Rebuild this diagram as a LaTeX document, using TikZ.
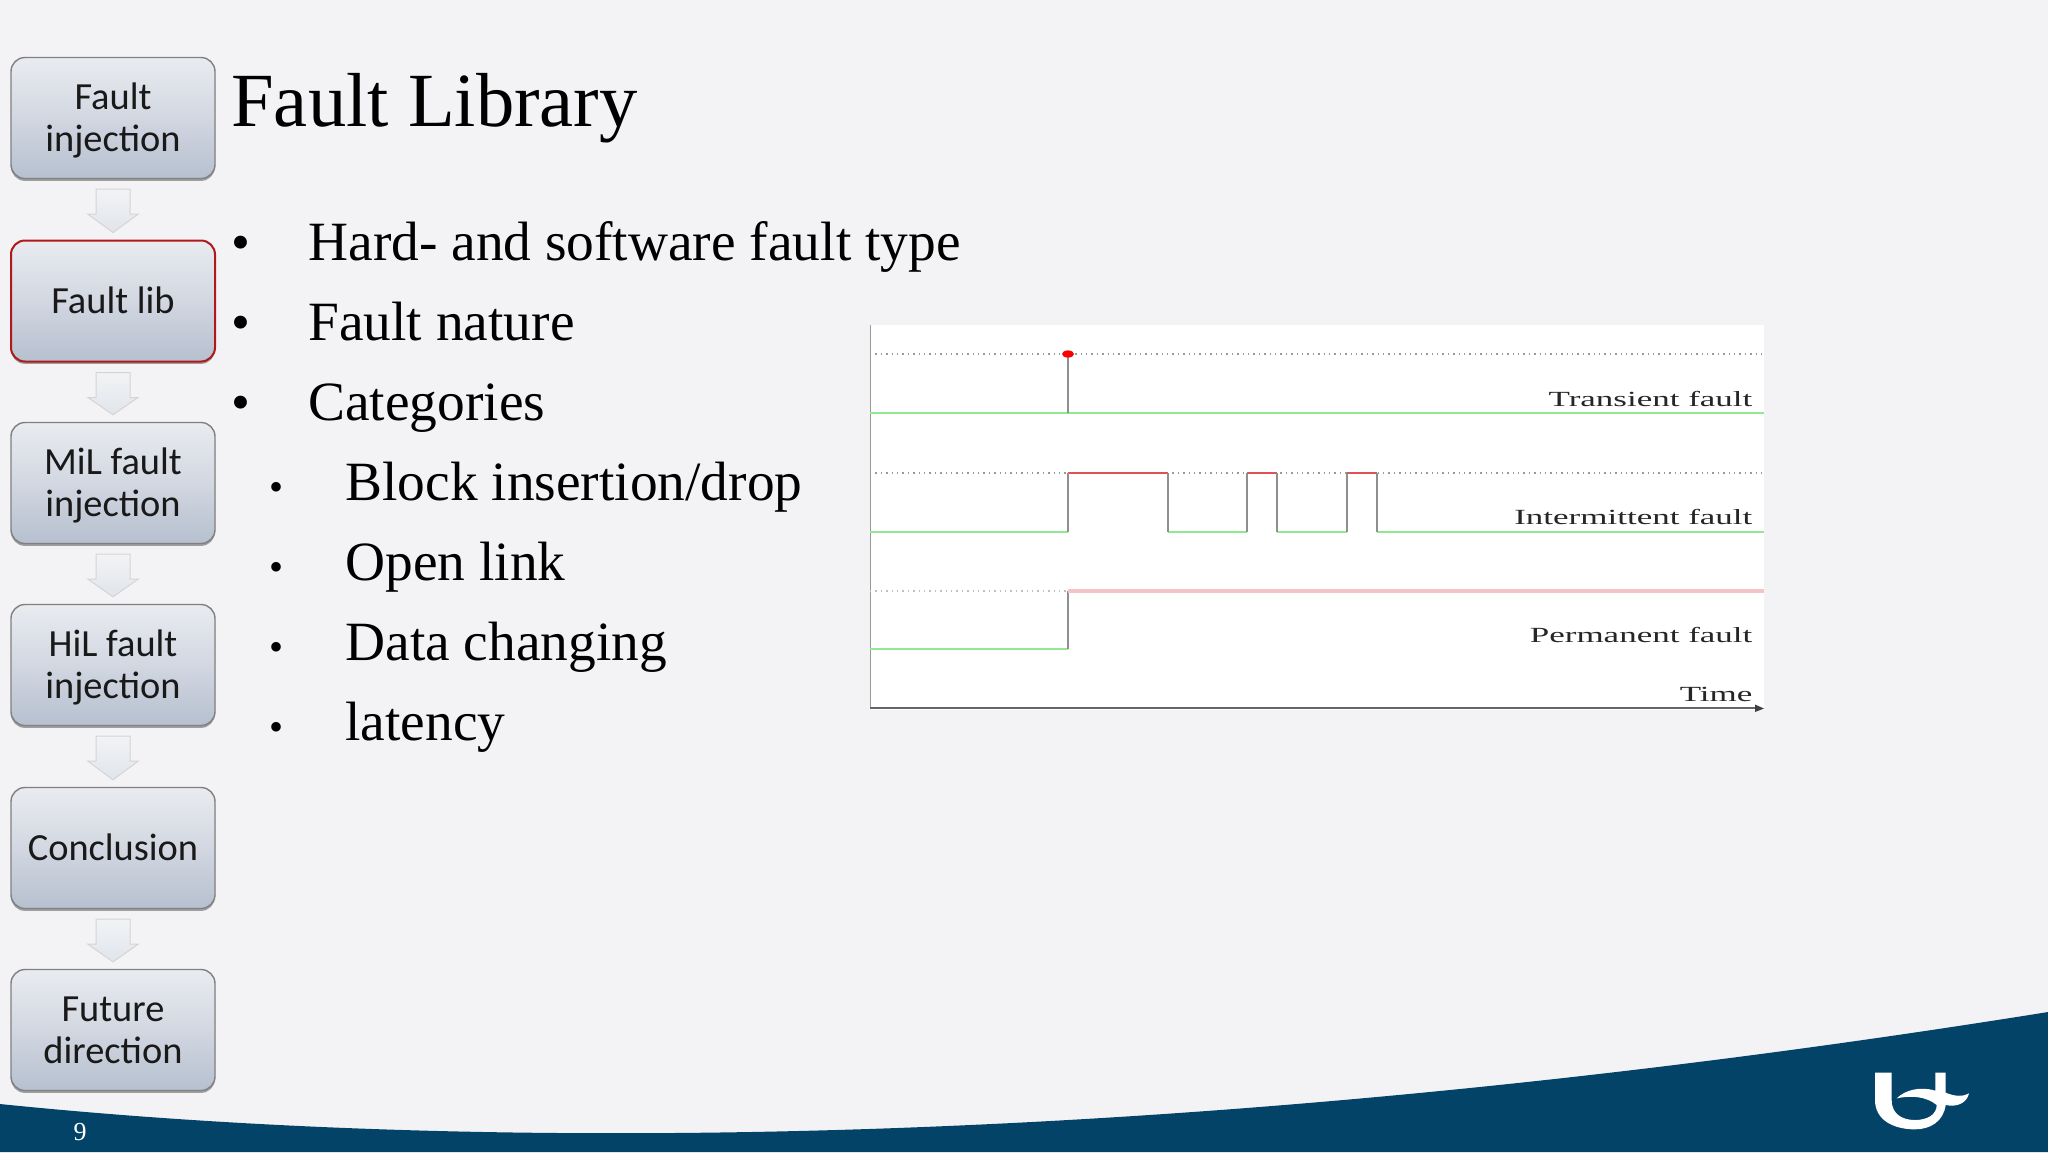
\documentclass[tikz,border=0pt]{standalone}
\usepackage{fontspec}
\setmainfont{Liberation Serif}
\newfontfamily\boxfont{Carlito}
\usetikzlibrary{shadows,calc}
\definecolor{bgc}{HTML}{F3F3F5}
\definecolor{navy}{HTML}{044368}
\definecolor{sig}{HTML}{8F8F8F}
\definecolor{grn}{HTML}{90E890}
\definecolor{rd}{HTML}{E2505A}
\definecolor{boxtop}{HTML}{E9EBF0}
\definecolor{boxmid}{HTML}{D2D7E1}
\definecolor{boxbot}{HTML}{B6C0CF}
\definecolor{arrtop}{HTML}{F2F3F5}
\definecolor{arrbot}{HTML}{E0E5EB}
\newcommand{\linea}{\rule[-6.3pt]{0pt}{25.5pt}}
\tikzset{
  x=0.5pt,y=-0.5pt,
  stepbox/.style={rounded corners=7pt,minimum width=102pt,minimum height=60.5pt,inner sep=0pt,
    align=center,draw=black!50,line width=.7pt,
    top color=boxtop,bottom color=boxbot,middle color=boxmid,
    drop shadow={shadow xshift=0pt,shadow yshift=-1.2pt,opacity=.35,fill=black},
    font=\boxfont\fontsize{19.2}{21}\selectfont,text=black!90},
  current/.style={draw=red!65!black!90,line width=1pt},
  blockarrow/.style={top color=arrtop,bottom color=arrbot,draw=black!17,line width=.5pt},
  titlet/.style={anchor=base west,inner sep=0pt,font=\fontsize{38.3}{44}\selectfont},
  item/.style={anchor=base west,inner sep=0pt,font=\fontsize{27.7}{32}\selectfont},
  bul/.style={anchor=base,inner sep=0pt,font=\fontsize{27}{32}\selectfont},
  chartlab/.style={anchor=base east,inner sep=0pt,xscale=1.62,transform shape,text=black!85,font=\fontsize{10.8}{12}\selectfont},
  dots/.style={dotted,line width=.7pt,draw=black!40},
  lowline/.style={draw=grn,line width=1pt},
  highline/.style={draw=rd,line width=1pt},
  edge/.style={draw=sig,line width=1.1pt},
}
\newcommand{\flowarrow}[2]{%
  \draw[blockarrow] ($(#1.south)+(-17,10)$) -- ($(#1.south)+(17,10)$) -- ($(#1.south)+(17,35)$) -- ($(#1.south)+(25,35)$) -- ($(#2.north)+(0,-7)$) -- ($(#1.south)+(-25,35)$) -- ($(#1.south)+(-17,35)$) -- cycle;}
\begin{document}
\begin{tikzpicture}
\useasboundingbox (0,0) rectangle (2048,1152);
\fill[bgc] (0,0) rectangle (2048,1152);
% footer band
\fill[navy] (0,1104) .. controls (500,1155) and (1200,1148) .. (2048,1012) -- (2048,1152) -- (0,1152) -- cycle;
% logo
\begin{scope}[shift={(1780,1000)},x=0.16667pt,y=-0.16667pt]
\fill[white] (285,218) -- (335,218) -- (335,300) .. controls (335,345) and (370,360) .. (405,360) .. controls (440,360) and (470,345) .. (470,315) .. controls (440,290) and (395,285) .. (350,295) .. controls (375,270) and (420,258) .. (466,272) -- (466,218) -- (497,218) -- (497,278) .. controls (525,290) and (550,290) .. (567,280) .. controls (560,310) and (530,322) .. (497,315) .. controls (490,365) and (450,388) .. (405,388) .. controls (340,388) and (285,360) .. (285,300) -- cycle;
\end{scope}
\node[text=white,inner sep=0pt,font=\fontsize{13}{15}\selectfont] (pageno) at (80,1132) {9};
% flow boxes
\node[stepbox] (s1) at (113,118) {\linea Fault\\\strut injection};
\node[stepbox,current] (s2) at (113,301) {\linea Fault lib};
\node[stepbox] (s3) at (113,483) {\linea MiL fault\\\strut injection};
\node[stepbox] (s4) at (113,665) {\linea HiL fault\\\strut injection};
\node[stepbox] (s5) at (113,848) {\linea Conclusion};
\node[stepbox] (s6) at (113,1030) {\linea Future\\\strut direction};
\flowarrow{s1}{s2}
\flowarrow{s2}{s3}
\flowarrow{s3}{s4}
\flowarrow{s4}{s5}
\flowarrow{s5}{s6}
% title and bullets
\node[titlet] (title) at (231,126) {Fault Library};
\foreach \n/\yy/\txt in {a/260/Hard- and software fault type,b/340/Fault nature,c/420/Categories}{
  \node[bul] (b\n) at (241,\yy) {•};
  \node[item] (t\n) at (308,\yy) {\txt};
}
\foreach \n/\yy/\txt in {d/500/Block insertion\slash drop,e/580/Open link,f/660/Data changing,g/740/latency}{
  \node[bul] (b\n) at (276,\yy) {\fontsize{20}{24}\selectfont •};
  \node[item] (t\n) at (345,\yy) {\txt};
}
% chart
\fill[white] (870,325) rectangle (1764,710);
\draw[draw=black!40,line width=.8pt] (870.5,325) -- (870.5,708);
\draw[draw=black!60,line width=1pt] (870,708) -- (1760,708);
\fill[black!75] (1755,704.5) -- (1764,708.5) -- (1755,712) -- cycle;
\draw[dots] (870,354) -- (1764,354);
\draw[dots] (870,473) -- (1764,473);
\draw[dots,draw=black!25] (870,591) -- (1067,591);
\draw[lowline] (870,413) -- (1764,413);
\draw[edge] (1068,413) -- (1068,354);
\fill[red] (1068,354) ellipse [x radius=6,y radius=3.6];
\draw[lowline] (870,532) -- (1068,532) (1168,532) -- (1247,532) (1277,532) -- (1347,532) (1377,532) -- (1764,532);
\draw[highline] (1068,473) -- (1168,473) (1247,473) -- (1277,473) (1347,473) -- (1377,473);
\draw[edge] (1068,532) -- (1068,473) (1168,473) -- (1168,532) (1247,532) -- (1247,473) (1277,473) -- (1277,532) (1347,532) -- (1347,473) (1377,473) -- (1377,532);
\draw[lowline] (870,649) -- (1068,649);
\draw[edge] (1068,649) -- (1068,591);
\draw[draw=rd!35,line width=2pt] (1068,591) -- (1764,591);
\node[chartlab] (l1) at (1753,406) {Transient fault};
\node[chartlab] (l2) at (1753,524) {Intermittent fault};
\node[chartlab] (l3) at (1753,642) {Permanent fault};
\node[chartlab] (l4) at (1753,701) {Time};
\end{tikzpicture}
\end{document}
